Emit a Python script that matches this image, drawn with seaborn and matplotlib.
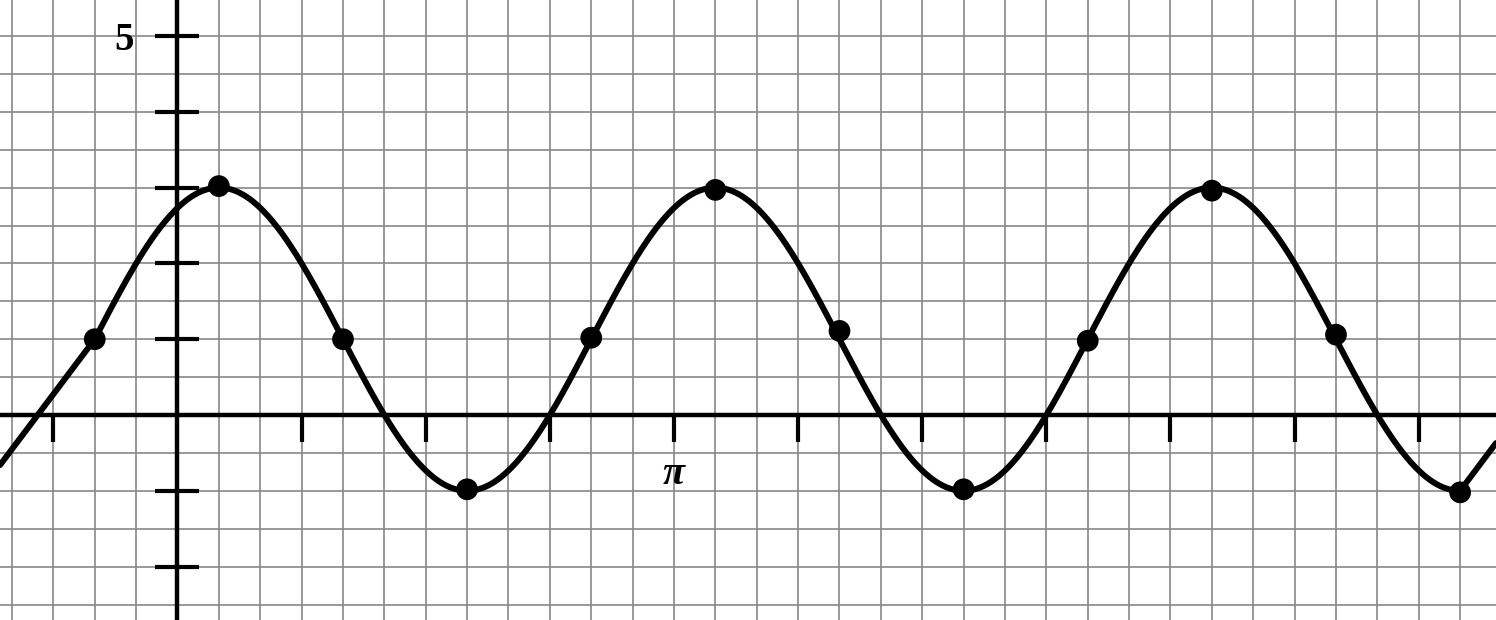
import numpy as np
import pandas as pd
import matplotlib
matplotlib.use("Agg")
import matplotlib.pyplot as plt
import seaborn as sns
from matplotlib.ticker import FixedLocator, FixedFormatter, MultipleLocator

# Curve: y = midline + amplitude * sin(2*pi/period * (x - shift))
midline = 1.0
amplitude = 2.0
period = np.pi
shift = -np.pi / 6
# where the drawn curve leaves the frame (left, right)
edge_y = [-0.66, -0.37]

point_x_pi = [-1/6, 1/12, 1/3, 7/12, 5/6, 13/12, 4/3, 19/12, 11/6, 25/12, 7/3, 31/12]
point_y = [1.00, 3.02, 1.00, -0.98, 1.02, 2.97, 1.11, -0.98, 0.98, 2.96, 1.06, -1.02]

# Axis ticks and labels
x_tick_pi = [-0.25, 0.25, 0.5, 0.75, 1.0, 1.25, 1.5, 1.75, 2.0, 2.25, 2.5]
x_tick_labels = ["", "", "", "", "π", "", "", "", "", "", ""]
y_ticks = [-2, -1, 1, 2, 3, 4, 5]
y_tick_labels = ["", "", "", "", "", "", "5"]

x_lo, x_hi = -0.3575 * np.pi, 2.6556 * np.pi
y_lo, y_hi = -2.704, 5.475

xs = np.linspace(point_x_pi[0] * np.pi, point_x_pi[-1] * np.pi, 1200)
ys = midline + amplitude * np.sin(2 * np.pi / period * (xs - shift))
curve = pd.DataFrame({"x": np.concatenate([[x_lo], xs, [x_hi]]),
                      "y": np.concatenate([[edge_y[0]], ys, [edge_y[1]]])})
points = pd.DataFrame({"x": np.array(point_x_pi) * np.pi, "y": point_y})

sns.set_style("white")
plt.rcParams["font.family"] = ["Liberation Serif", "DejaVu Serif"]
plt.rcParams["font.weight"] = "bold"

fig = plt.figure(figsize=(14.96, 6.2), dpi=100)
ax = fig.add_axes([0, 0, 1, 1])

sns.lineplot(data=curve, x="x", y="y", color="black", linewidth=4.3,
             sort=False, estimator=None, ax=ax, zorder=4)
sns.scatterplot(data=points, x="x", y="y", color="black", s=245,
                edgecolor="none", ax=ax, zorder=5)

ax.set_xlim(x_lo, x_hi)
ax.set_ylim(y_lo, y_hi)
ax.set_xlabel("")
ax.set_ylabel("")

# grid every pi/12 and every 0.5
ax.xaxis.set_major_locator(FixedLocator(np.array(x_tick_pi) * np.pi))
ax.xaxis.set_major_formatter(FixedFormatter(x_tick_labels))
ax.xaxis.set_minor_locator(MultipleLocator(np.pi / 12))
ax.yaxis.set_major_locator(FixedLocator(y_ticks))
ax.yaxis.set_major_formatter(FixedFormatter(y_tick_labels))
ax.yaxis.set_minor_locator(MultipleLocator(0.5))
ax.grid(which="both", color="#888888", linewidth=1.2)
ax.set_axisbelow(True)

# axes through the origin
for side in ["top", "right"]:
    ax.spines[side].set_visible(False)
ax.spines["left"].set_position(("data", 0))
ax.spines["bottom"].set_position(("data", 0))
for side in ["left", "bottom"]:
    ax.spines[side].set_linewidth(3.2)
    ax.spines[side].set_color("black")
    ax.spines[side].set_zorder(3)

ax.tick_params(axis="x", which="major", bottom=True, direction="out", length=19.5,
               width=3, color="black", pad=10, labelsize=29, labelcolor="black")
ax.tick_params(axis="y", which="major", left=True, direction="inout", length=31.5,
               width=3, color="black", pad=16, labelsize=28, labelcolor="black")
ax.tick_params(which="minor", length=0)
for lbl in ax.get_xticklabels():
    lbl.set_fontstyle("italic")
    lbl.set_fontweight("bold")
for lbl in ax.get_yticklabels():
    lbl.set_fontweight("bold")

fig.savefig("out.png", dpi=100)
